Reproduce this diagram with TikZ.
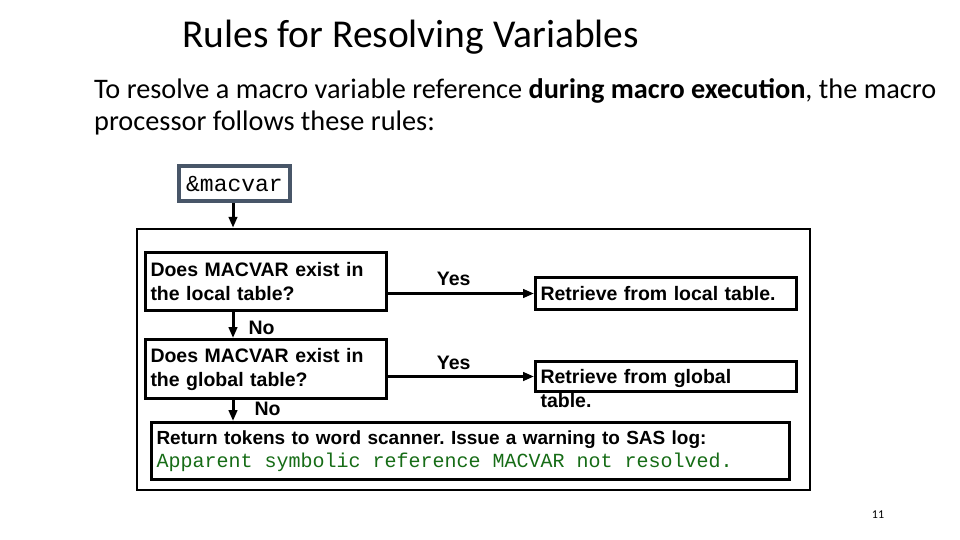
\documentclass[tikz,border=0pt]{standalone}
\usepackage{fontspec}
\setmainfont{Carlito}
\newfontfamily\arialfont{Liberation Sans}
\newfontfamily\courfont{Liberation Mono}
\usetikzlibrary{arrows.meta}
\usetikzlibrary{positioning}
\frenchspacing

\definecolor{slatebox}{RGB}{72,86,104}
\definecolor{codegreen}{RGB}{22,108,22}

\tikzset{
	flowbox/.style = {draw, line width=3pt, anchor=north west, align=left, inner xsep=5pt,
		font=\arialfont\bfseries\fontsize{19.5}{24}\selectfont},
	flowarrow/.style = {line width=3pt, -{Triangle[length=11pt,width=8.5pt]}},
	flowlabel/.style = {font=\arialfont\bfseries\fontsize{19.5}{24}\selectfont, inner sep=0pt}
}

\begin{document}
\begin{tikzpicture}[x=1pt, y=-1pt]
		\useasboundingbox[fill=white] (0,0) rectangle (960,540);
		% heading and text
		\node[anchor=base west, inner sep=0pt, font=\fontsize{39.5}{44}\selectfont] (title) at (182,48) {Rules for Resolving Variables};
		\node[anchor=base west, inner sep=0pt, align=left, font=\fontsize{28.3}{32}\selectfont] (intro) at (94,131)
			{To resolve a macro variable reference \textbf{during macro execution}, the macro\\processor follows these rules:};
		\node[font=\fontsize{12}{14}\selectfont, inner sep=0pt] (pagenum) at (878,515) {11};
		% flow chart
		\node[draw=slatebox, line width=3.5pt, minimum width=111, minimum height=35, inner sep=0pt,
			font=\courfont\fontsize{23}{26}\selectfont] (macvar) at (234.5,183.5) {\&macvar};
		\node[draw, line width=2.5pt, minimum width=673, minimum height=261, inner sep=0pt] (frame) at (473.5,359.5) {};
		\coordinate (spine) at (233,0);
		\node[flowbox, minimum width=241, minimum height=58, text width=231] (local) at (144,251)
			{Does MACVAR exist in\\the local table?};
		\node[flowbox, minimum width=241, minimum height=59, text width=231] (global) at (144,338)
			{Does MACVAR exist in\\the global table?};
		\node[flowbox, minimum width=261, minimum height=32, text width=251] (getlocal) at (534,276)
			{Retrieve from local table.};
		\node[flowbox, minimum width=261, minimum height=30, text width=251, text height=14pt, text depth=0pt] (getglobal) at (534,360)
			{Retrieve from global\\table.};
		\node[flowbox, minimum width=638, minimum height=57, text width=628, inner ysep=2pt,
			font=\arialfont\bfseries\fontsize{19}{23}\selectfont] (warn) at (150,421)
			{Return tokens to word scanner. Issue a warning to SAS log:\\
			{\courfont\mdseries\color{codegreen}\fontsize{20}{23}\selectfont\spaceskip=0.6em\relax
			Apparent symbolic reference MACVAR not resolved.}};
		% arrows
		\draw[flowarrow] (macvar.south -| spine) -- (frame.north -| spine);
		\draw[flowarrow] (local.south -| spine) -- (global.north -| spine)
			node[flowlabel, midway, right=14pt, yshift=-3pt] {No};
		\draw[flowarrow] (global.south -| spine) -- (warn.north -| spine)
			node[flowlabel, midway, right=20pt, yshift=2pt] {No};
		\draw[flowarrow] (local.east |- getlocal.west) -- (getlocal.west)
			node[flowlabel, pos=0.45, above=6pt] {Yes};
		\draw[flowarrow] (global.east |- getglobal.west) -- (getglobal.west)
			node[flowlabel, pos=0.45, above=5pt] {Yes};
	\end{tikzpicture}
\end{document}
